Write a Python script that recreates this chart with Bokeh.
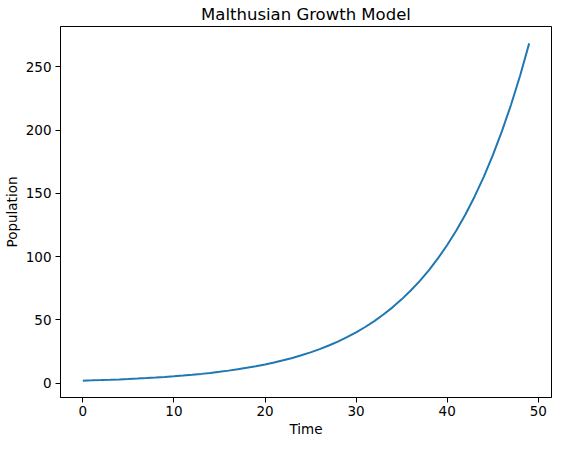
from bokeh.plotting import figure
from bokeh.models import FixedTicker, Range1d
from bokeh.embed import file_html
from bokeh.resources import INLINE

# population values, one per time step
time = list(range(50))
population = [
    2.00, 2.21, 2.44, 2.70, 2.98, 3.30, 3.64, 4.03, 4.45, 4.92,
    5.44, 6.01, 6.64, 7.34, 8.11, 8.96, 9.91, 10.95, 12.10, 13.37,
    14.78, 16.33, 18.05, 19.95, 22.05, 24.37, 26.93, 29.76, 32.89, 36.35,
    40.17, 44.40, 49.07, 54.23, 59.93, 66.23, 73.20, 80.89, 89.40, 98.80,
    109.20, 120.68, 133.37, 147.40, 162.90, 180.03, 198.96, 219.89, 243.02, 268.57,
]
x_ticks = [0, 10, 20, 30, 40, 50]
y_ticks = [0, 50, 100, 150, 200, 250]

FONT = "DejaVu Sans"

p = figure(
    width=555,
    height=439,
    title="Malthusian Growth Model",
    x_axis_label="Time",
    y_axis_label="Population",
    toolbar_location=None,
    output_backend="svg",
    min_border_left=58,
    min_border_top=24,
    min_border_right=4,
    min_border_bottom=40,
)

# matplotlib-ish 5% margins
xpad = (max(time) - min(time)) * 0.05
ypad = (max(population) - min(population)) * 0.05
p.x_range = Range1d(min(time) - xpad, max(time) + xpad)
p.y_range = Range1d(min(population) - ypad, max(population) + ypad)

p.line(time, population, line_color="#1f77b4", line_width=2)

p.title.align = "center"
p.title.text_font = FONT
p.title.text_font_size = "16.5px"
p.title.text_font_style = "normal"
p.title.text_color = "black"
p.title.standoff = 5

p.grid.visible = False
p.outline_line_color = "black"
p.outline_line_width = 1
p.outline_line_alpha = 1
p.background_fill_color = "white"
p.border_fill_color = "white"

p.xaxis.ticker = FixedTicker(ticks=x_ticks)
p.yaxis.ticker = FixedTicker(ticks=y_ticks)
for ax in (p.xaxis, p.yaxis):
    ax.axis_line_color = "black"
    ax.major_tick_line_color = "black"
    ax.major_tick_in = 0
    ax.major_tick_out = 5
    ax.minor_tick_line_color = None
    ax.major_label_text_font = FONT
    ax.major_label_text_font_size = "13.5px"
    ax.major_label_text_color = "black"
    ax.axis_label_text_font = FONT
    ax.axis_label_text_font_size = "13.5px"
    ax.axis_label_text_font_style = "normal"
    ax.axis_label_text_color = "black"
    ax.major_label_standoff = 4
    ax.axis_label_standoff = 3
p.xaxis.major_label_standoff = 3
p.xaxis.axis_label_standoff = 2

open("out.html", "w").write(file_html(p, INLINE))
